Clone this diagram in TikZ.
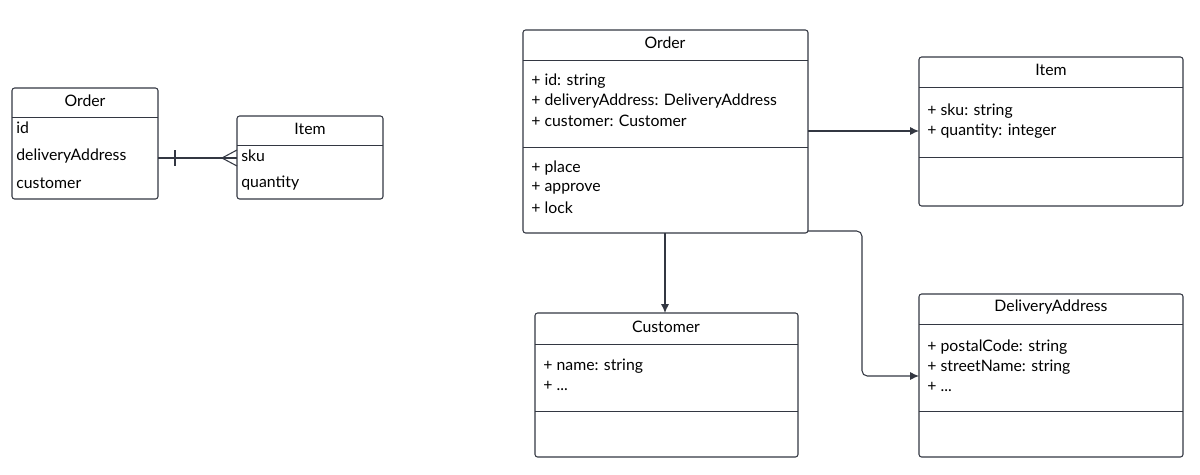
\documentclass[tikz,border=0pt]{standalone}
\usepackage{fontspec}
\setmainfont{Lato}
\usetikzlibrary{arrows.meta}
\definecolor{Line}{RGB}{51,55,66}
\tikzset{
  box/.style={draw=Line, rounded corners=1.5pt, line width=0.6pt},
  sep/.style={draw=Line, line width=0.5pt},
  txt/.style={anchor=west, inner sep=0pt, font=\fontsize{9}{11}\selectfont},
  ttl/.style={inner sep=0pt, font=\fontsize{9}{11}\selectfont},
  link/.style={draw=Line, line width=0.6pt, -{Latex[length=5pt,width=4.5pt]}}
}
\begin{document}
\begin{tikzpicture}[x=0.02cm, y=-0.02cm]
\useasboundingbox (0,0) rectangle (1200,474);

% ER: Order and Item
\draw[box] (12,88) rectangle (158,199);
\draw[sep] (12,117) -- (158,117);
\node[ttl] (erorder) at (85,101) {Order};
\node[txt] at (16,128) {id};
\node[txt] at (16,156) {deliveryAddress};
\node[txt] at (16,183) {customer};
\draw[box] (237,116) rectangle (383,199);
\draw[sep] (237,145) -- (383,145);
\node[ttl] (eritem) at (310,129) {Item};
\node[txt] at (241,156) {sku};
\node[txt] at (241,183) {quantity};
\coordinate (erfrom) at (158,158);
\coordinate (erto) at (237,158);
\draw[Line, line width=0.6pt] (erfrom) -- (erto);
\draw[Line, line width=0.6pt] (175,150) -- (175,166);
\draw[Line, line width=0.6pt] (237,150) -- (222,158) -- (237,166);

% Class: Order
\draw[box] (523,30) rectangle (808,233);
\draw[sep] (523,60) -- (808,60);
\draw[sep] (523,147) -- (808,147);
\node[ttl] (order) at (665,43) {Order};
\node[txt] at (531,81) {+ id: string};
\node[txt] at (531,101) {+ deliveryAddress: DeliveryAddress};
\node[txt] at (531,121) {+ customer: Customer};
\node[txt] at (531,168) {+ place};
\node[txt] at (531,188) {+ approve};
\node[txt] at (531,208) {+ lock};

% Class: Item
\draw[box] (919,57) rectangle (1183,206);
\draw[sep] (919,87) -- (1183,87);
\draw[sep] (919,157) -- (1183,157);
\node[ttl] (item) at (1051,70) {Item};
\node[txt] at (927,111) {+ sku: string};
\node[txt] at (927,131) {+ quantity: integer};

% Class: Customer
\draw[box] (535,313) rectangle (798,457);
\draw[sep] (535,344) -- (798,344);
\draw[sep] (535,411) -- (798,411);
\node[ttl] (customer) at (666,327) {Customer};
\node[txt] at (543,366) {+ name: string};
\node[txt] at (543,386) {+ ...};

% Class: DeliveryAddress
\draw[box] (919,294) rectangle (1183,457);
\draw[sep] (919,324) -- (1183,324);
\draw[sep] (919,411) -- (1183,411);
\node[ttl] (address) at (1051,307) {DeliveryAddress};
\node[txt] at (927,347) {+ postalCode: string};
\node[txt] at (927,367) {+ streetName: string};
\node[txt] at (927,387) {+ ...};

% Associations
\coordinate (o1) at (808,131); \coordinate (i1) at (919,131);
\coordinate (o2) at (665,233); \coordinate (c1) at (665,313);
\coordinate (o3) at (808,231); \coordinate (d1) at (919,376);
\draw[link] (o1) -- (i1);
\draw[link] (o2) -- (c1);
\draw[link, rounded corners=3pt] (o3) -- (862,231) -- (862,376) -- (d1);
\end{tikzpicture}
\end{document}
